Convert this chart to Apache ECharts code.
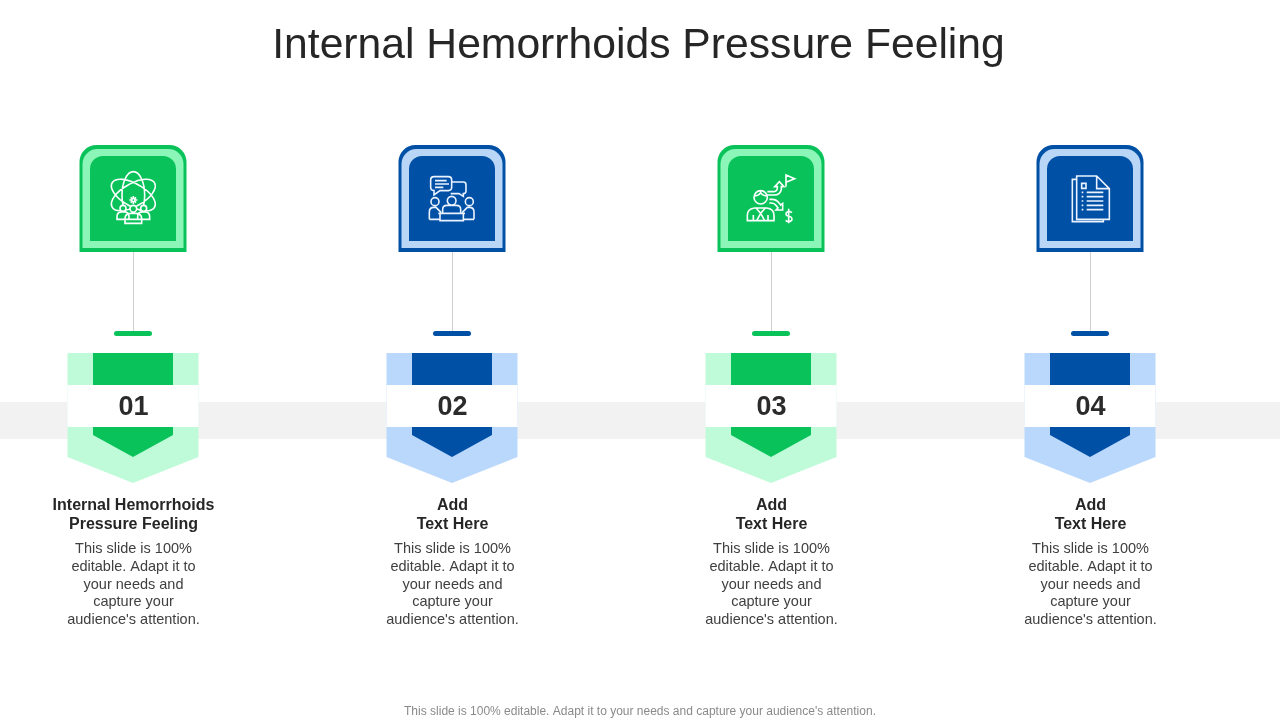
<!DOCTYPE html>
<html>
<head>
<meta charset="utf-8">
<style>
  html, body { margin: 0; padding: 0; background: #fff; }
  #main { width: 1280px; height: 720px; }
</style>
<script src="https://cdn.jsdelivr.net/npm/echarts@6/dist/echarts.min.js"></script>
</head>
<body>
<div id="main"></div>
<script>
const titleText = 'Internal Hemorrhoids Pressure Feeling'
const footerText = "This slide is 100% editable. Adapt it to your needs and capture your audience's attention."
const stepNumbers = ['01', '02', '03', '04']
const stepIndex = [0, 1, 2, 3]
const headings = ['Internal Hemorrhoids\nPressure Feeling', 'Add\nText Here', 'Add\nText Here', 'Add\nText Here']
const bodyText = "This slide is 100%\neditable. Adapt it to\nyour needs and\ncapture your\naudience's attention."

const FONT = '"Liberation Sans", Arial, sans-serif'
const GREEN = { dark: '#0AC25A', ring: '#8CF6B9', light: '#BFFBD9', line: '#ffffff' }
const BLUE = { dark: '#0050A6', ring: '#BAD6F6', light: '#BAD7FC', line: '#eaf3ff' }
const palettes = [GREEN, BLUE, GREEN, BLUE]

// steps sit 319px apart with the first centre at x=133
const STEP_PX = 319
const FIRST_CX = 133

const circle = (cx, cy, r) => `M${cx - r} ${cy}A${r} ${r} 0 1 0 ${cx + r} ${cy}A${r} ${r} 0 1 0 ${cx - r} ${cy}`

// icons are traced in a 255x225 box, which maps to an 85x75 box on the slide
const ICON_BOX = 'M0 0M255 225'
const icons = [
  {
    dx: -38,
    lines: 'M81 105A34 70 0 1 0 149 105A34 70 0 1 0 81 105' +
      'M132 134.4A34 70 60 1 0 98 75.6A34 70 60 1 0 132 134.4' +
      'M132 75.6A34 70 300 1 0 98 134.4A34 70 300 1 0 132 75.6',
    solid: 'M66 178v-8q0-14 14-14h8q14 0 14 14v8zM128 178v-8q0-14 14-14h8q14 0 14 14v8z' +
      circle(84, 145, 9) + circle(146, 145, 9) +
      'M90 190v-14q0-16 18-16h14q18 0 18 16v14zM90 178h50' + circle(115, 146, 10) +
      circle(115, 120, 5) + 'M115 108v5M115 127v5M103 120h5M122 120h5M107 112l3 3M120 125l3 3M123 112l-3 3M110 125l-3 3'
  },
  {
    dx: -42,
    lines: 'M75 50h40q10 0 10 10v22q0 10-10 10h-25l-18 13v-13h-0q-10 0-10-10v-22q0-10 10-10z' +
      'M75 62h35M75 72h42M75 82h25' +
      'M125 66h35q8 0 8 8v20q0 7-8 7v8l-13-8h-25' +
      circle(75, 125, 12) + circle(125, 122, 13) + circle(178, 125, 12) +
      'M58 178v-22q0-14 14-14h6l15 15M192 178v-22q0-14-14-14h-6l-15 15' +
      'M98 160v-12q0-12 13-12h28q13 0 13 12v12' +
      'M58 178h32M160 178h32M85 160h80M90 160v22h70v-22'
  },
  {
    dx: -41,
    lines: circle(92, 112, 20) + 'M72 108q14 0 20-10q6 10 20 10' +
      'M52 182v-16q0-20 22-22h36q22 2 22 22v16zM78 144l14 16l14-16M92 160l-12 22M92 160l12 22M70 165v17M114 165v17' +
      'M112 95h18q10 0 12-10v-5h-8l14-15l14 15h-8v8q-3 17-22 17h-20' +
      'M118 118h8q14 0 22 12l4 5l6-5v20h-20l6-6l-5-7q-6-8-15-8h-6' +
      'M168 80V45l26 11l-26 11' +
      'M186 158q-9-8-17 0q-4 9 8 11q12 3 8 12q-9 8-18 0M176 146v44'
  },
  {
    dx: -40,
    lines: 'M80 58h-13v127h93v-7' +
      'M80 48h60l38 38v92h-98zM140 48v38h38' +
      'M95 70h13v15h-13zM95 97h5M110 97h50M95 110h5M110 110h50M95 123h5M110 123h50M95 136h5M110 136h50M95 149h5M110 149h50'
  }
]

const renderStep = (params, api) => {
  const i = api.value(0)
  const [cx, top] = api.coord([i, 0])
  const col = palettes[i]
  const at = (dx, y) => [cx + dx, top + y]

  const card = (half, y0, y1, r, fill) => ({
    type: 'rect',
    shape: { x: cx - half, y: top + y0, width: half * 2, height: y1 - y0, r: [r, r, 0, 0] },
    style: { fill }
  })
  const shield = (half, y0, y1, tip, fill) => ({
    type: 'polygon',
    shape: { points: [at(-half, y0), at(half, y0), at(half, y1), at(0, tip), at(-half, y1)] },
    style: { fill }
  })
  const icon = icons[i]
  const iconPath = (d, style) => ({
    type: 'path',
    shape: { pathData: ICON_BOX + d, x: cx + icon.dx, y: top + 160, width: 85, height: 75 },
    style
  })
  const lineStyle = { fill: 'none', stroke: col.line, lineWidth: 1.6 }

  const children = [
    { type: 'line', shape: { x1: cx + 0.5, y1: top + 252, x2: cx + 0.5, y2: top + 332 }, style: { stroke: '#cfcfcf', lineWidth: 1 } },
    card(53.5, 145, 252, 17, col.dark),
    card(50.5, 149, 248, 15, col.ring),
    card(43, 156, 241, 13, col.dark),
    iconPath(icon.lines, lineStyle)
  ]
  if (icon.solid) children.push(iconPath(icon.solid, { ...lineStyle, fill: col.dark }))
  children.push(
    { type: 'rect', shape: { x: cx - 19, y: top + 331, width: 38, height: 5, r: 2.5 }, style: { fill: col.dark } },
    shield(65.5, 353, 457, 483, col.light),
    shield(40, 353, 435, 457, col.dark),
    { type: 'rect', shape: { x: cx - 65.5, y: top + 385, width: 131, height: 42 }, style: { fill: '#fff' } },
    { type: 'text', style: { x: cx + 0.5, y: top + 408, text: stepNumbers[i], font: `bold 27px ${FONT}`, fill: '#2b2b2b', textAlign: 'center', textVerticalAlign: 'middle' } },
    { type: 'text', style: { x: cx + 0.5, y: top + 515, text: headings[i], font: `bold 16px ${FONT}`, lineHeight: 19, fill: '#262626', textAlign: 'center', textVerticalAlign: 'middle' } },
    { type: 'text', style: { x: cx + 0.5, y: top + 584.5, text: bodyText, font: `14.5px ${FONT}`, lineHeight: 17.8, fill: '#404040', textAlign: 'center', textVerticalAlign: 'middle' } }
  )
  return { type: 'group', children }
}

const chart = echarts.init(document.getElementById('main'), null, { renderer: 'canvas' })
chart.setOption({
  animation: false,
  backgroundColor: '#fff',
  title: [
    { text: titleText, left: 638.5, top: 46, padding: 0, textAlign: 'center', textVerticalAlign: 'middle', textStyle: { fontFamily: FONT, fontSize: 42.67, fontWeight: 'normal', color: '#262626' } },
    { text: footerText, left: 640, top: 712, padding: 0, textAlign: 'center', textVerticalAlign: 'middle', textStyle: { fontFamily: FONT, fontSize: 12, fontWeight: 'normal', color: '#8a8a8a' } }
  ],
  graphic: [
    { type: 'rect', shape: { x: 0, y: 402, width: 1280, height: 37 }, style: { fill: '#f2f2f2' }, z: 0 }
  ],
  grid: { left: 0, width: 1280, top: 0, height: 720 },
  xAxis: { type: 'value', min: -FIRST_CX / STEP_PX, max: (1280 - FIRST_CX) / STEP_PX, show: false },
  yAxis: { type: 'value', min: 0, max: 720, inverse: true, show: false },
  series: [
    {
      type: 'custom',
      coordinateSystem: 'cartesian2d',
      renderItem: renderStep,
      clip: false,
      encode: { x: 0, y: 1 },
      data: stepIndex.map((i) => [i, 0]),
      z: 2
    }
  ]
})
</script>
</body>
</html>
